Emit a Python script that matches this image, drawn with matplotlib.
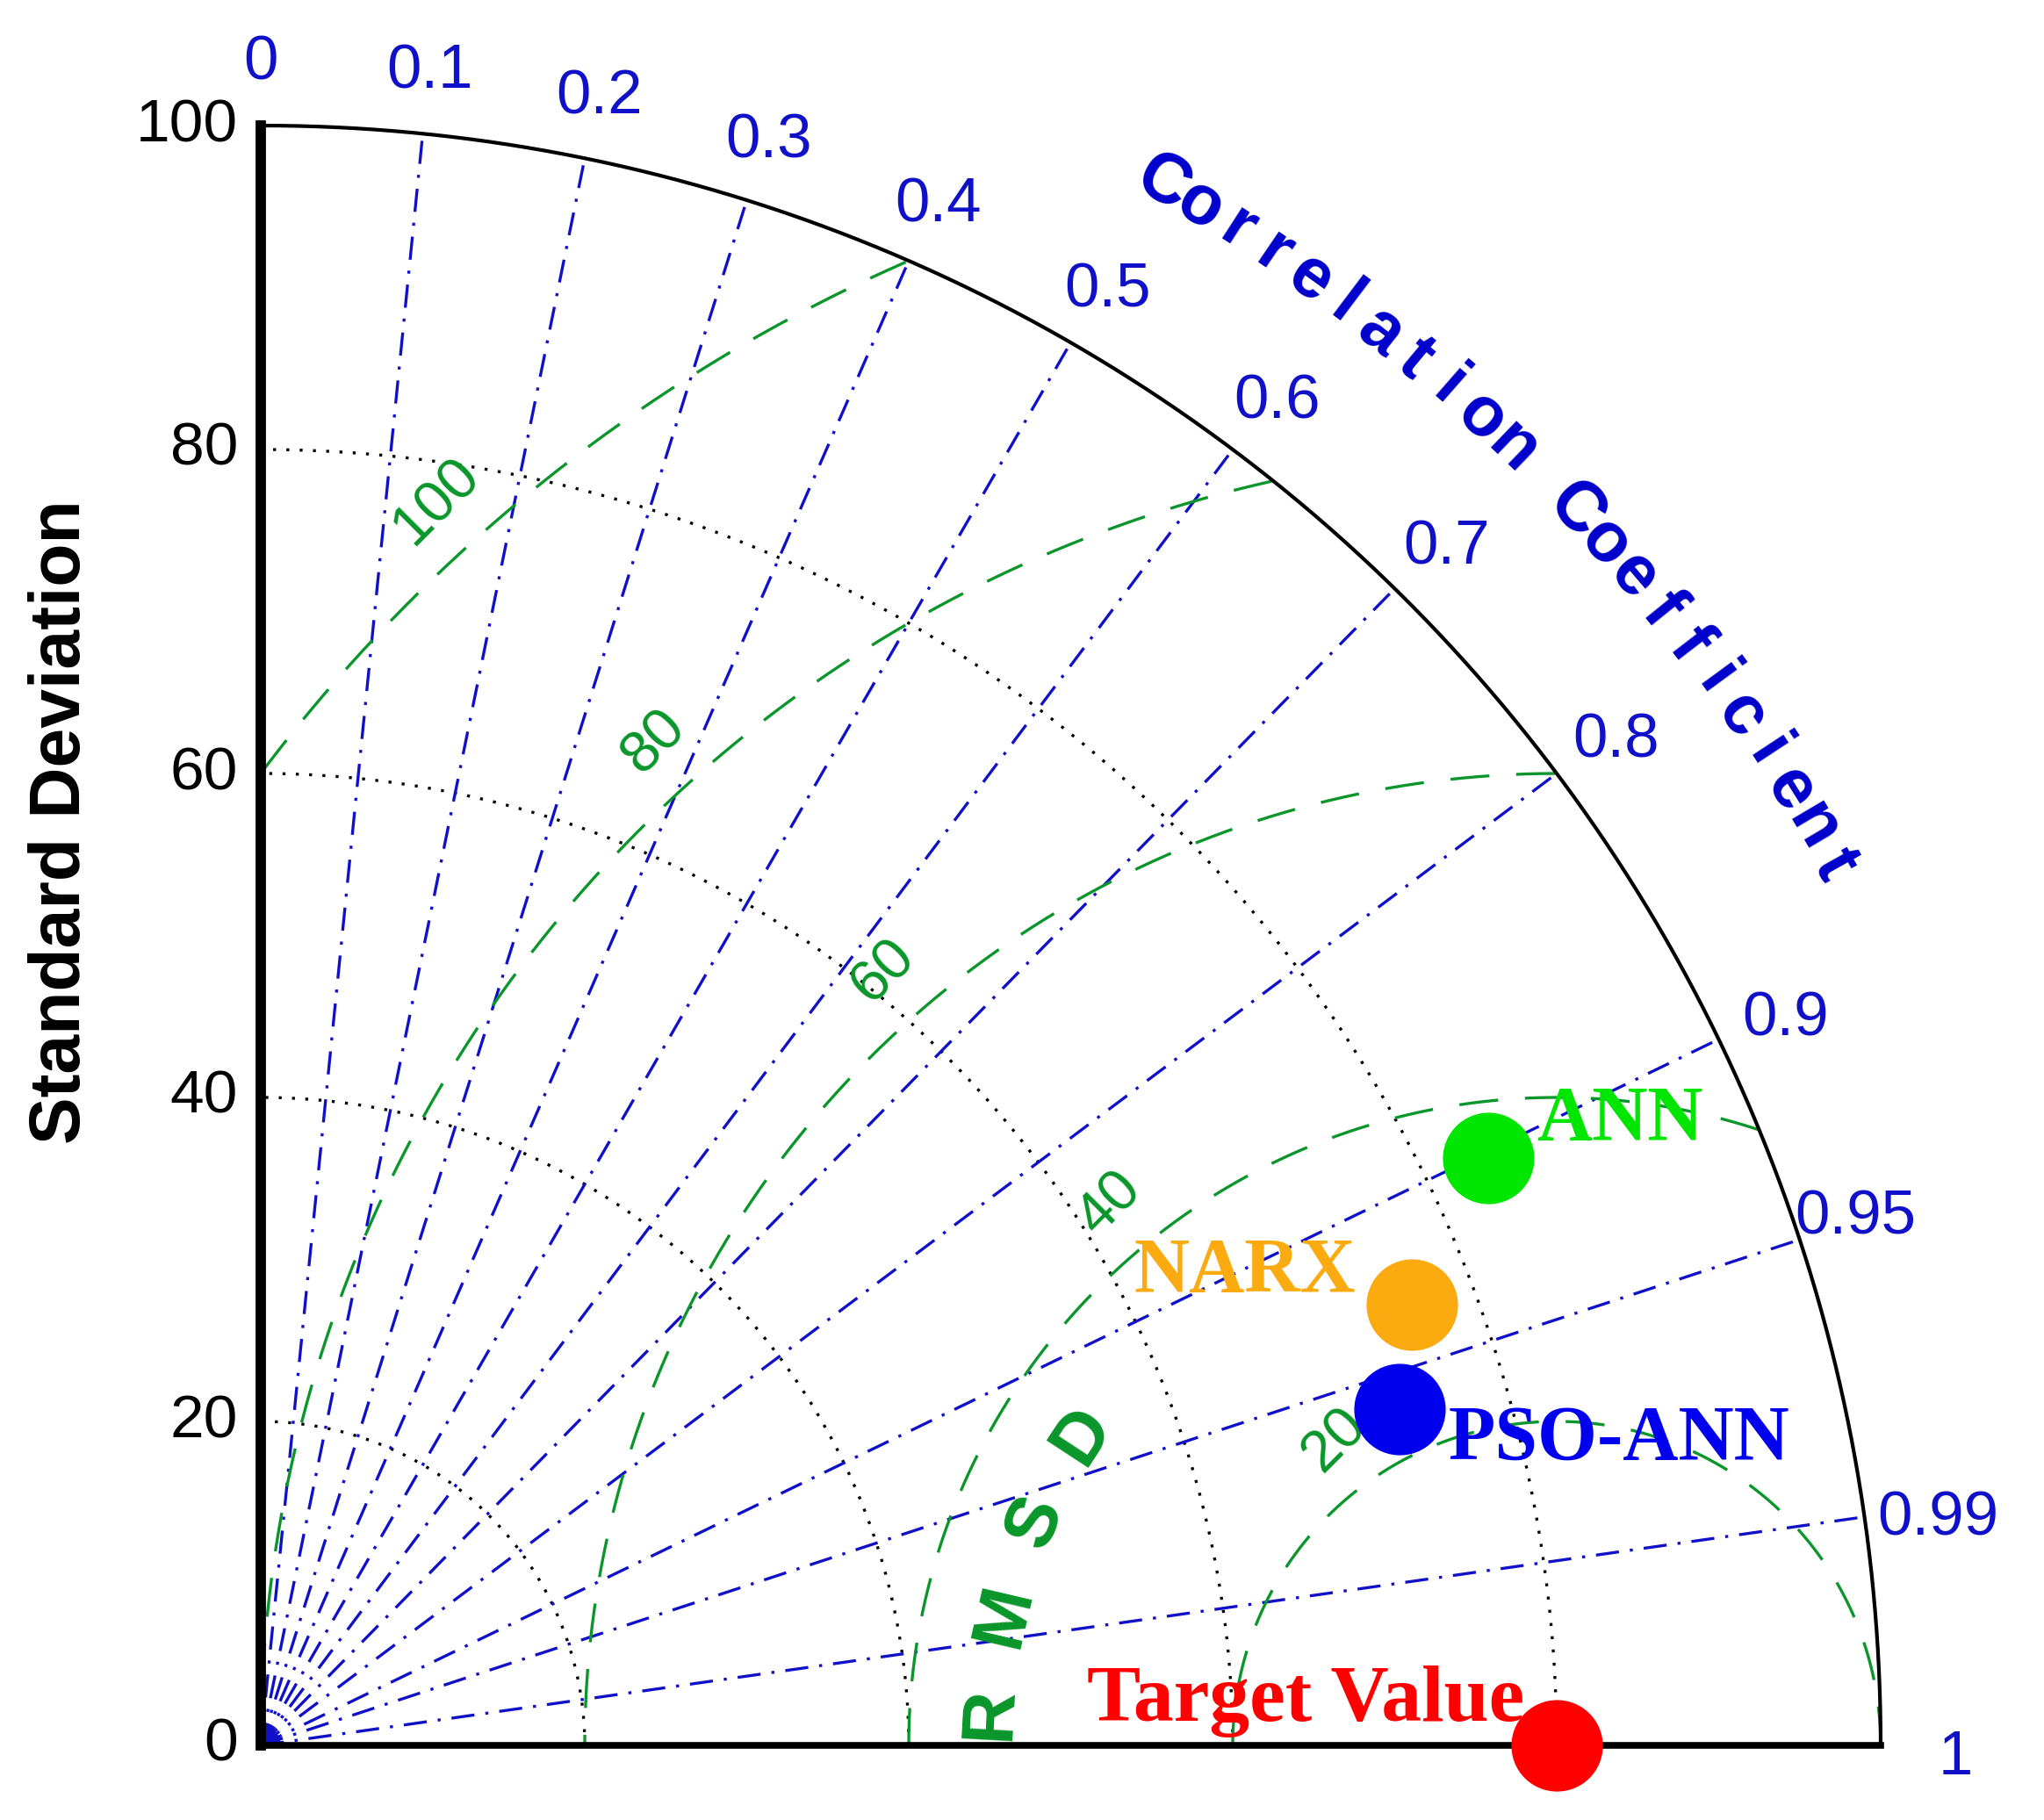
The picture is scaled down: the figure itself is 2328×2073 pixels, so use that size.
import numpy as np
import matplotlib
matplotlib.use('Agg')
import matplotlib.pyplot as plt

# ── data ──────────────────────────────────────────────────────────────────────

models     = ['ANN', 'NARX', 'PSO-ANN']
model_std  = [84.0, 76.1, 73.3]
model_corr = [0.902, 0.934, 0.959]
model_col  = ['#00E600', '#FBAA0F', '#0000EE']
label_dx   = [3.0, -3.5, 3.0]      # label offsets (data units)
label_dy   = [2.3, 2.0, -1.9]
label_ha   = ['left', 'right', 'left']

ref_std    = 80.0
ref_label  = 'Target Value'

std_ticks  = [0, 20, 40, 60, 80, 100]
std_arcs   = [20, 40, 60, 80]
corr_ticks = [0.1, 0.2, 0.3, 0.4, 0.5, 0.6, 0.7, 0.8, 0.9, 0.95, 0.99]
corr_lbls  = ['0', '0.1', '0.2', '0.3', '0.4', '0.5', '0.6', '0.7', '0.8',
              '0.9', '0.95', '0.99', '1']
rmsd_lvls  = [20, 40, 60, 80, 100]
rmsd_lbl_ang = [126, 129.5, 131, 132, 132]   # where each level is labelled

# ── figure / axes (origin at px (297,1988), 18.45 px per unit) ───────────────

plt.rcParams['lines.scale_dashes'] = False
W, H = 2328, 2073
ox, oy, s = 297, 1988, 18.45

fig = plt.figure(figsize=(W / 100, H / 100), dpi=100)
ax = fig.add_axes([0, 0, 1, 1])
ax.set_xlim(-ox / s, (W - ox) / s)
ax.set_ylim(-(H - oy) / s, oy / s)
ax.axis('off')

RMAX = 100.0
BLUE = '#1010C8'
GREEN = '#0A962A'
sans = 'Liberation Sans'
serif = 'Liberation Serif'

# std dotted arcs
th = np.linspace(0, np.pi / 2, 400)
for r in std_arcs:
    ax.plot(r * np.cos(th), r * np.sin(th), color='black', lw=2.4,
            linestyle=(0, (2.4, 8.5)), zorder=2)

# correlation rays
for c in corr_ticks:
    a = np.arccos(c)
    ax.plot([0, RMAX * np.cos(a)], [0, RMAX * np.sin(a)], color=BLUE, lw=2.4,
            linestyle=(0, (19, 9, 2.5, 9)), zorder=2)
ax.add_patch(matplotlib.patches.Wedge((0, 0), 1.2, 0, 90, color=BLUE, zorder=2))

# RMSD arcs centred on the reference
phi = np.linspace(0, np.pi, 1000)
for R, la in zip(rmsd_lvls, rmsd_lbl_ang):
    x = ref_std + R * np.cos(phi)
    y = R * np.sin(phi)
    keep = (x >= 0) & (x ** 2 + y ** 2 <= RMAX ** 2 + 1e-6)
    x = np.where(keep, x, np.nan)
    y = np.where(keep, y, np.nan)
    ax.plot(x, y, color=GREEN, lw=2.4, linestyle=(0, (32, 22)), zorder=2)
    a = np.deg2rad(la)
    ax.text(ref_std + (R + 3.3) * np.cos(a), (R + 3.3) * np.sin(a), str(R),
            color=GREEN, fontsize=48, family=sans, rotation=45,
            ha='center', va='center', zorder=3)

# RMSD title letters along an arc
for i, ch in enumerate('RMSD'):
    a = 176.8 - 10.0 * i
    ar = np.deg2rad(a)
    ax.text(ref_std + 35 * np.cos(ar), 35 * np.sin(ar), ch, color=GREEN,
            fontsize=60, family=sans, weight='bold', rotation=a - 90,
            ha='center', va='center', zorder=3)

# frame: outer arc + axes
ax.plot(RMAX * np.cos(th), RMAX * np.sin(th), color='black', lw=3, zorder=4)
ax.plot([0, 0], [0, RMAX], color='black', lw=8.5, solid_capstyle='projecting',
        zorder=4)
ax.plot([0, RMAX], [0, 0], color='black', lw=5.5, solid_capstyle='projecting',
        zorder=4)

# std tick labels
for t in std_ticks:
    ax.text(-1.4, t, str(t), fontsize=50, family=sans, ha='right',
            va='center', color='black')
ax.text(-12.3, 57, 'Standard Deviation', fontsize=58, family=sans,
        weight='bold', rotation=90, ha='center', va='center')

# correlation tick labels
corr_pos = [0.0] + corr_ticks + [1.0]
for c, lbl in zip(corr_pos, corr_lbls):
    a = np.arccos(c)
    r = 103.6 if lbl == '0.95' else 104.6
    yoff = 0.2 if lbl == '0.95' else -0.8
    ax.text(r * np.cos(a), r * np.sin(a) + yoff, lbl, fontsize=51,
            family=sans, color=BLUE, ha='center', va='center')

# "Correlation Coefficient" along the outer arc
title = 'Correlation Coefficient'
angs = np.linspace(60.0, 29.2, len(title))
for ch, a in zip(title, angs):
    if ch == ' ':
        continue
    ar = np.deg2rad(a)
    ax.text(111.3 * np.cos(ar), 111.3 * np.sin(ar), ch, fontsize=57,
            family=sans, weight='bold', color='#0000CC', rotation=a - 90,
            ha='center', va='center')

# model points
for name, sd, cc, col, dx, dy, ha in zip(models, model_std, model_corr,
                                         model_col, label_dx, label_dy,
                                         label_ha):
    a = np.arccos(cc)
    px, py = sd * np.cos(a), sd * np.sin(a)
    ax.plot(px, py, 'o', ms=74, color=col, mec=col, zorder=6)
    ax.text(px + dx, py + dy, name, fontsize=63, family=serif, weight='bold',
            color=col, ha=ha, va='center', zorder=7)

# reference point
ax.plot(ref_std, 0, 'o', ms=74, color='#FF0000', zorder=6, clip_on=False)
ax.text(ref_std - 2.0, 1.5, ref_label, fontsize=66, family=serif,
        weight='bold', color='#FF0000', ha='right', va='baseline', zorder=7)

fig.savefig('out.png', dpi=100)
